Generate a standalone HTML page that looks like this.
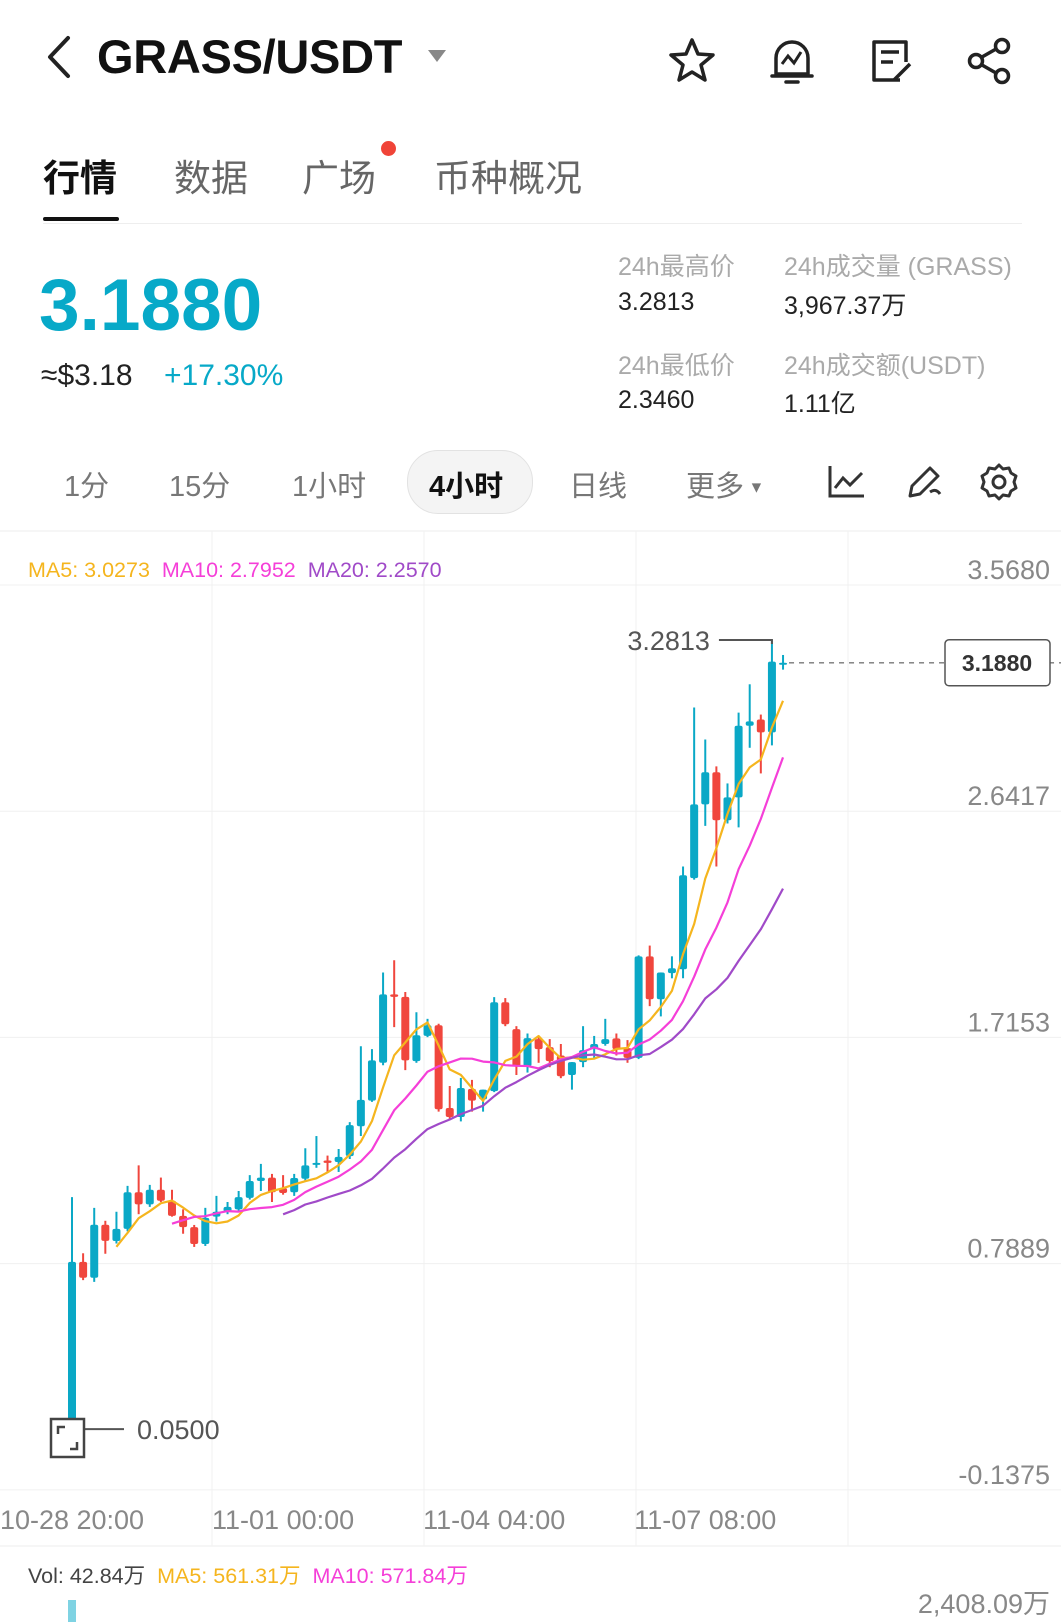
<!DOCTYPE html>
<html><head><meta charset="utf-8">
<style>
html,body{margin:0;padding:0;background:#fff;}
body{width:1061px;height:1622px;position:relative;overflow:hidden;font-family:"Liberation Sans","Noto Sans CJK SC",sans-serif;}
.a{position:absolute;white-space:nowrap;}
.tab{font-size:37px;top:148px;color:#666;}
.lbl{font-size:25px;color:#aaa;}
.val{font-size:25px;color:#222;}
.iv{font-size:29px;color:#777;top:463px;}
</style></head><body>
<svg class="a" style="left:44px;top:34px" width="30" height="46"><polyline points="24,4 6,23 24,42" fill="none" stroke="#222" stroke-width="4" stroke-linecap="round" stroke-linejoin="round"/></svg>
<div class="a" style="left:97px;top:29px;font-size:47px;font-weight:bold;color:#111;letter-spacing:-0.3px">GRASS/USDT</div>
<svg class="a" style="left:428px;top:50px" width="18" height="14"><polygon points="0,0 18,0 9,12" fill="#888"/></svg>
<svg class="a" style="left:668px;top:36px" width="48" height="48"><polygon points="24,4 30,18 45,19 33,29 37,44 24,36 11,44 15,29 3,19 18,18" fill="none" stroke="#222" stroke-width="3.5" stroke-linejoin="round"/></svg>
<svg class="a" style="left:768px;top:36px" width="48" height="50"><path d="M8,38 V22 A16,16 0 0 1 40,22 V38 Z" fill="none" stroke="#222" stroke-width="3.5" stroke-linejoin="round"/><line x1="4" y1="40" x2="44" y2="40" stroke="#222" stroke-width="3.5" stroke-linecap="round"/><polyline points="14,28 20,20 26,27 33,16" fill="none" stroke="#222" stroke-width="3"/><line x1="18" y1="46" x2="30" y2="46" stroke="#222" stroke-width="3.5" stroke-linecap="round"/></svg>
<svg class="a" style="left:866px;top:36px" width="48" height="50"><path d="M34,44 H8 V6 H40 V26" fill="none" stroke="#222" stroke-width="3.5" stroke-linejoin="round"/><line x1="15" y1="16" x2="33" y2="16" stroke="#222" stroke-width="3.5"/><line x1="15" y1="26" x2="27" y2="26" stroke="#222" stroke-width="3.5"/><line x1="28" y1="44" x2="44" y2="28" stroke="#222" stroke-width="3.5"/></svg>
<svg class="a" style="left:966px;top:36px" width="50" height="50"><circle cx="36" cy="10" r="6.5" fill="none" stroke="#222" stroke-width="3.5"/><circle cx="10" cy="25" r="6.5" fill="none" stroke="#222" stroke-width="3.5"/><circle cx="36" cy="40" r="6.5" fill="none" stroke="#222" stroke-width="3.5"/><line x1="16" y1="21" x2="30" y2="13" stroke="#222" stroke-width="3.5"/><line x1="16" y1="29" x2="30" y2="37" stroke="#222" stroke-width="3.5"/></svg>

<div class="a tab" style="left:43px;color:#111;font-weight:bold">行情</div>
<div class="a tab" style="left:174px">数据</div>
<div class="a tab" style="left:302px">广场</div>
<div class="a" style="left:381px;top:141px;width:15px;height:15px;border-radius:50%;background:#f04438"></div>
<div class="a tab" style="left:434px">币种概况</div>
<div class="a" style="left:43px;top:217px;width:76px;height:4px;background:#111;border-radius:2px"></div>
<div class="a" style="left:43px;top:223px;width:979px;height:1px;background:#eee"></div>

<div class="a" style="left:39px;top:264px;font-size:73px;color:#07a9c8;font-weight:bold">3.1880</div>
<div class="a" style="left:41px;top:359px;font-size:30px;color:#222">≈$3.18</div>
<div class="a" style="left:164px;top:359px;font-size:30px;color:#07a9c8">+17.30%</div>

<div class="a lbl" style="left:618px;top:247px">24h最高价</div>
<div class="a val" style="left:618px;top:288px">3.2813</div>
<div class="a lbl" style="left:784px;top:247px">24h成交量 (GRASS)</div>
<div class="a val" style="left:784px;top:286px">3,967.37万</div>
<div class="a lbl" style="left:618px;top:346px">24h最低价</div>
<div class="a val" style="left:618px;top:386px">2.3460</div>
<div class="a lbl" style="left:784px;top:346px">24h成交额(USDT)</div>
<div class="a val" style="left:784px;top:384px">1.11亿</div>

<div class="a iv" style="left:64px">1分</div>
<div class="a iv" style="left:169px">15分</div>
<div class="a iv" style="left:292px">1小时</div>
<div class="a" style="left:407px;top:450px;width:124px;height:62px;border-radius:31px;background:#f4f4f4;border:1px solid #e2e2e2"></div>
<div class="a iv" style="left:429px;color:#111;font-weight:bold">4小时</div>
<div class="a iv" style="left:569px">日线</div>
<div class="a iv" style="left:686px">更多<span style="font-size:16px;vertical-align:middle"> ▼</span></div>
<svg class="a" style="left:828px;top:464px" width="38" height="36"><polyline points="2,2 2,32 36,32" fill="none" stroke="#333" stroke-width="3"/><polyline points="7,24 15,14 22,21 34,9" fill="none" stroke="#333" stroke-width="3"/></svg>
<svg class="a" style="left:904px;top:462px" width="38" height="40"><path d="M6,34 L8,24 L26,6 L34,14 L16,32 Z" fill="none" stroke="#333" stroke-width="3" stroke-linejoin="round"/><path d="M26,30 q6,-4 10,2" fill="none" stroke="#333" stroke-width="3"/></svg>
<svg class="a" style="left:979px;top:462px" width="40" height="40"><circle cx="20" cy="20" r="6" fill="none" stroke="#333" stroke-width="3"/><path d="M20,3 L24,7 L30,6 L32,11 L37,14 L35,20 L37,26 L32,29 L30,34 L24,33 L20,37 L16,33 L10,34 L8,29 L3,26 L5,20 L3,14 L8,11 L10,6 L16,7 Z" fill="none" stroke="#333" stroke-width="3" stroke-linejoin="round"/></svg>

<svg id="chart" class="a" style="left:0;top:0" width="1061" height="1622"></svg>

<script>
const opens  = [0.05,0.735,0.67,0.887,0.82,0.87,1.02,0.97,1.03,0.985,0.923,0.877,0.808,0.92,0.94,0.95,0.997,1.066,1.08,1.037,1.02,1.075,1.135,1.15,1.144,1.168,1.29,1.395,1.55,1.83,1.82,1.557,1.66,1.704,1.365,1.328,1.443,1.40,1.434,1.798,1.688,1.536,1.647,1.614,1.58,1.50,1.553,1.606,1.627,1.65,1.61,1.57,1.986,1.81,1.917,1.933,2.306,2.608,2.74,2.543,2.637,2.93,2.956,2.903,3.185];
const highs  = [1.0,0.77,0.956,0.903,0.94,1.046,1.13,1.05,1.08,1.03,0.95,0.886,0.956,1.005,0.98,1.025,1.09,1.136,1.095,1.09,1.095,1.2,1.25,1.17,1.197,1.307,1.618,1.606,1.92,1.97,1.84,1.757,1.73,1.71,1.455,1.488,1.48,1.44,1.819,1.815,1.70,1.67,1.66,1.647,1.627,1.553,1.70,1.66,1.73,1.67,1.643,1.99,2.03,1.92,1.986,2.354,3.005,2.874,2.764,2.694,2.984,3.10,2.976,3.2813,3.22];
const lows   = [0.05,0.66,0.653,0.768,0.81,0.86,0.93,0.96,0.98,0.92,0.85,0.796,0.80,0.90,0.93,0.94,0.99,1.025,0.98,1.01,1.005,1.066,1.12,1.103,1.103,1.156,1.25,1.39,1.54,1.696,1.52,1.55,1.655,1.35,1.32,1.31,1.35,1.35,1.43,1.70,1.50,1.51,1.55,1.532,1.487,1.44,1.532,1.565,1.62,1.58,1.55,1.565,1.782,1.74,1.896,1.896,2.30,2.52,2.354,2.53,2.514,2.84,2.735,2.85,3.16];
const closes = [0.735,0.67,0.887,0.821,0.87,1.02,0.97,1.03,0.985,0.923,0.877,0.808,0.915,0.94,0.96,1.0,1.066,1.08,1.02,1.017,1.078,1.13,1.14,1.14,1.165,1.295,1.398,1.56,1.83,1.82,1.56,1.663,1.704,1.36,1.328,1.447,1.395,1.44,1.798,1.708,1.536,1.651,1.606,1.557,1.495,1.553,1.602,1.627,1.647,1.606,1.57,1.986,1.81,1.92,1.937,2.318,2.608,2.74,2.543,2.637,2.93,2.948,2.903,3.193,3.188];
const yTicks = [3.5680,2.6417,1.7153,0.7889,-0.1375];
const xLabels = ["10-28 20:00","11-01 00:00","11-04 04:00","11-07 08:00"];
const xLabelIdx = [0,19,38,57];
const maPeriods = [5,10,20];
const maColors = ["#f5b51e","#f53fd8","#a04ac8"];
const lastPrice = 3.1880;
const volumes = [42.84];

const svg = document.getElementById('chart');
const NS = 'http://www.w3.org/2000/svg';
const X0 = 72, DX = 11.11;
function xs(i){ return X0 + i*DX; }
function ys(v){ return 570 + (3.568 - v)*244.2; }
function mk(tag, attrs, parent){
  const e = document.createElementNS(NS, tag);
  for (const k in attrs) e.setAttribute(k, attrs[k]);
  (parent||svg).appendChild(e);
  return e;
}
let l = mk('line',{x1:0,y1:531,x2:1061,y2:531,stroke:'#ececec','stroke-width':1});


l = mk('line',{x1:0,y1:1546,x2:1061,y2:1546,stroke:'#ececec','stroke-width':1});


[212,424,636,848].forEach(function(x){
  const g = mk('line',{x1:x,y1:531,x2:x,y2:1546,stroke:'#f2f2f2','stroke-width':1});
  
  
});
yTicks.forEach(function(t){
  const y = ys(t);
  const g = mk('line',{x1:0,y1:y+15,x2:1061,y2:y+15,stroke:'#f0f0f0','stroke-width':1});
  
  
  const tx = mk('text',{x:1050,y:y+9,'text-anchor':'end','font-size':27,fill:'#888','font-family':'Liberation Sans, sans-serif'});
  tx.textContent = t.toFixed(4);
  
  
});
xLabels.forEach(function(s,k){
  const tx = mk('text',{x:xs(xLabelIdx[k]),y:1529,'text-anchor':'middle','font-size':27,fill:'#888','font-family':'Liberation Sans, sans-serif'});
  tx.textContent = s;
  
  
});
for (let i=0;i<opens.length;i++){
  const up = closes[i] >= opens[i];
  const c = up ? '#0aa8c6' : '#f0463d';
  const x = xs(i);
  const w = mk('line',{x1:x,y1:ys(highs[i]),x2:x,y2:ys(lows[i]),stroke:c,'stroke-width':2});
  
  
  const top = ys(Math.max(opens[i],closes[i]));
  const h = Math.max(2, ys(Math.min(opens[i],closes[i])) - top);
  const b = mk('rect',{x:x-4,y:top,width:8,height:h,rx:2,fill:c});
  
  
}
maPeriods.forEach(function(p,k){
  const pts = [];
  for (let i=p-1;i<closes.length;i++){
    let s=0; for (let j=i-p+1;j<=i;j++) s+=closes[j];
    pts.push(xs(i).toFixed(1)+','+ys(s/p).toFixed(1));
  }
  const pl = mk('polyline',{points:pts.join(' '),fill:'none',stroke:maColors[k],'stroke-width':2.2,'stroke-linejoin':'round'});
  
  
});
const leg = mk('text',{x:28,y:577,'font-size':21.5,'font-family':'Liberation Sans, sans-serif'});


leg.setAttribute('style','white-space:pre');
[["MA5: 3.0273",maColors[0]],["  MA10: 2.7952",maColors[1]],["  MA20: 2.2570",maColors[2]]].forEach(function(a){
  const ts = mk('tspan',{fill:a[1]},leg); ts.textContent = a[0];
});
let hiIdx = 0; highs.forEach(function(h,i){ if (h>highs[hiIdx]) hiIdx=i; });
const hy = ys(highs[hiIdx]);
const mpl = mk('polyline',{points:(xs(hiIdx)-53)+','+hy+' '+xs(hiIdx)+','+hy+' '+xs(hiIdx)+','+(hy+4),fill:'none',stroke:'#555','stroke-width':2});


const mt = mk('text',{x:xs(hiIdx)-62,y:hy+10,'text-anchor':'end','font-size':27,fill:'#555','font-family':'Liberation Sans, sans-serif'});
mt.textContent = highs[hiIdx].toFixed(4);


let loIdx = 0; lows.forEach(function(v,i){ if (v<lows[loIdx]) loIdx=i; });
const ly = ys(lows[loIdx]);
const mnl = mk('line',{x1:xs(loIdx)+12,y1:ly,x2:xs(loIdx)+52,y2:ly,stroke:'#555','stroke-width':2});


const mnt = mk('text',{x:xs(loIdx)+65,y:ly+10,'font-size':27,fill:'#555','font-family':'Liberation Sans, sans-serif'});
mnt.textContent = lows[loIdx].toFixed(4);


const fs = mk('g',{});


mk('rect',{x:51,y:1419,width:33,height:38,fill:'#fff',stroke:'#444','stroke-width':2.5},fs);
mk('polyline',{points:'58,1434 58,1427 65,1427',fill:'none',stroke:'#444','stroke-width':2.5},fs);
mk('polyline',{points:'77,1442 77,1449 70,1449',fill:'none',stroke:'#444','stroke-width':2.5},fs);
const py = ys(lastPrice);
const dl = mk('line',{x1:xs(closes.length-1)+6,y1:py,x2:1061,y2:py,stroke:'#777','stroke-width':1.3,'stroke-dasharray':'5,5'});


const bx = mk('rect',{x:945,y:py-23,width:105,height:46,rx:4,fill:'#fff',stroke:'#555','stroke-width':1.5});


const bt = mk('text',{x:997,y:py+8,'text-anchor':'middle','font-size':23,fill:'#333','font-weight':'bold','font-family':'Liberation Sans, sans-serif'});
bt.textContent = lastPrice.toFixed(4);


const vl = mk('text',{x:28,y:1583,'font-size':21.5,'font-family':'Liberation Sans, Noto Sans CJK SC, sans-serif'});


vl.setAttribute('style','white-space:pre');
[["Vol: "+volumes[0].toFixed(2)+"万","#444"],["  MA5: 561.31万",maColors[0]],["  MA10: 571.84万",maColors[1]]].forEach(function(a){
  const ts = mk('tspan',{fill:a[1]},vl); ts.textContent = a[0];
});
const vt = mk('text',{x:1050,y:1613,'text-anchor':'end','font-size':27,fill:'#888','font-family':'Liberation Sans, Noto Sans CJK SC, sans-serif'});
vt.textContent = '2,408.09万';


const vb = mk('rect',{x:xs(0)-4,y:1600,width:8,height:22,fill:'#7fd3e3'});


</script>
</body></html>
